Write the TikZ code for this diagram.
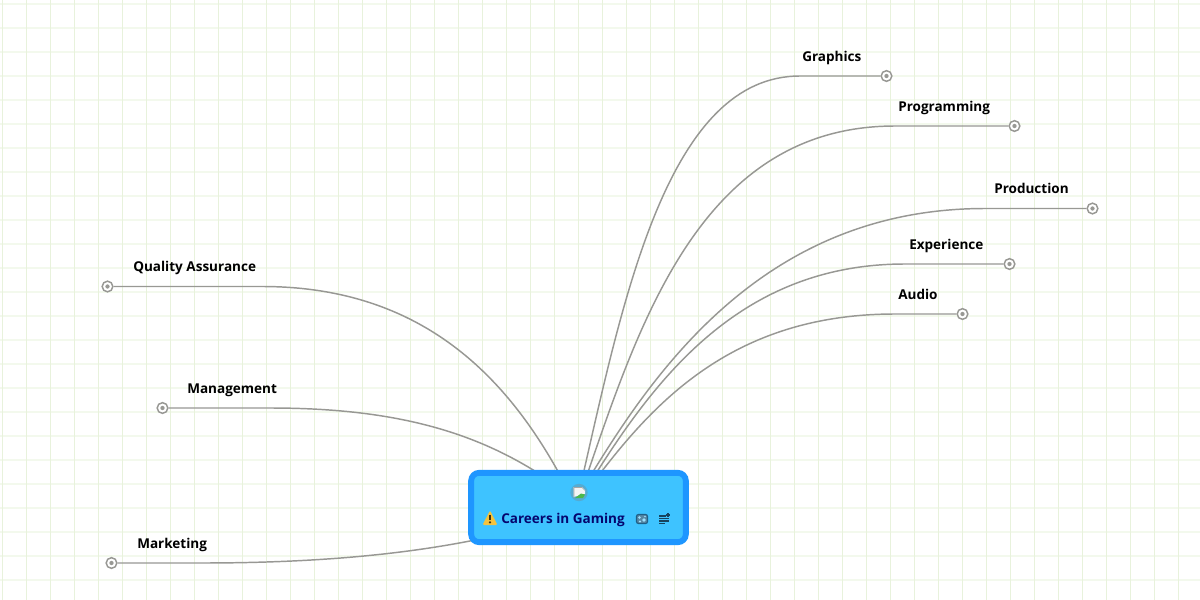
\documentclass[tikz,border=0pt]{standalone}
\usepackage{fontspec}
\setmainfont{Open Sans}
\pgfdeclarelayer{gridlayer}
\pgfdeclarelayer{connlayer}
\pgfsetlayers{gridlayer,connlayer,main}
\definecolor{gridv}{HTML}{E8F2DC}
\definecolor{gridh}{HTML}{F3F9ED}
\definecolor{conn}{HTML}{989894}
\definecolor{rootfill}{HTML}{3EC3FF}
\definecolor{rootedge}{HTML}{1E96FF}
\definecolor{roottext}{HTML}{05056E}
\definecolor{warn}{HTML}{F5C33B}
\definecolor{iconc}{HTML}{1F5F86}
\tikzset{
  x=0.75pt,y=-0.75pt,
  branch/.style={draw=conn,line width=1.1pt},
  leaf/.style={circle,draw=conn,fill=white,line width=1.1pt,minimum size=8pt,inner sep=0pt,
    path picture={\fill[conn] (path picture bounding box.center) circle (1.6pt);}},
  lab/.style={font=\bfseries\fontsize{10.15pt}{12pt}\selectfont,text=black,inner sep=0pt,anchor=base west},
  rootbox/.style={draw=rootedge,fill=rootfill,line width=4.4pt,rounded corners=6pt,minimum width=161pt,minimum height=52pt,inner sep=0pt},
  roottxt/.style={font=\bfseries\fontsize{10.15pt}{12pt}\selectfont,text=roottext,inner sep=0pt,anchor=base west}
}
\begin{document}
\begin{tikzpicture}
\useasboundingbox (0,0) rectangle (1200,600);
\begin{pgfonlayer}{gridlayer}
\fill[white] (0,0) rectangle (1200,600);
\foreach \k in {0,...,24}{\draw[gridh,line width=0.8pt] (0,4+24*\k) -- (1200,4+24*\k);}
\foreach \k in {0,...,49}{\draw[gridv,line width=0.7pt] (2+24*\k,0) -- (2+24*\k,600);}
\end{pgfonlayer}

\node[rootbox] (root) at (578.5,507.5) {};
\node[roottxt] (roottitle) at (501,523.5) {Careers in Gaming};

% broken image icon
\node[inner sep=0pt,minimum size=0pt] (imgicon) at (579,492) {};
\fill[rootfill!65!gray] (579,492.5) circle (6.5pt);
\fill[white!92!gray] (573.5,487) -- (582,487) -- (585,490) -- (585,494) -- (573.5,497) -- cycle;
\fill[green!60!black!70] (575,498) -- (581,493.5) -- (585,494.5) -- (583,498) -- cycle;
\draw[gray!70,line width=0.4pt] (574,497.5) -- (574,487.5) -- (582,487.5) -- (585,490.5);
% warning icon
\node[inner sep=0pt,minimum size=0pt] (warnicon) at (490,518) {};
\fill[warn,rounded corners=1pt] (490,510.5) -- (497.5,525) -- (482.5,525) -- cycle;
\fill[black!75!warn] (489.2,514.5) rectangle (490.8,520.3);
\fill[black!75!warn] (490,522.3) circle (0.9pt);
% image icon
\node[inner sep=0pt,minimum size=0pt] (picicon) at (642,519) {};
\draw[iconc,fill=iconc!75,rounded corners=1.5pt,line width=0.9pt] (636.5,514.5) rectangle (647.5,523.5);
\fill[rootfill!50] (639.5,517.5) circle (1.1pt) (644,520) circle (1.4pt) (640,521.5) circle (0.8pt) (645,516.5) circle (0.7pt);
% notes icon
\node[inner sep=0pt,minimum size=0pt] (noteicon) at (664,519) {};
\draw[iconc!70!black,line width=1.2pt] (659,516) -- (666,516) (659,518.6) -- (669,518.6) (659,521) -- (669,521) (659,523.3) -- (665,523.3);
\draw[iconc!70!black,line width=0.8pt] (668,513) -- (668,517) (666,515) -- (670,515);

\node[leaf] (graphics) at (886.5,76) {};
\node[leaf] (programming) at (1014.5,126) {};
\node[leaf] (production) at (1092.5,208.5) {};
\node[leaf] (experience) at (1009.5,264) {};
\node[leaf] (audio) at (962.5,314) {};
\node[leaf] (qa) at (107.5,286.5) {};
\node[leaf] (management) at (162.5,408) {};
\node[leaf] (marketing) at (111.5,563) {};

\node[lab] (tgraphics) at (802,61) {Graphics};
\node[lab] (tprogramming) at (898,111) {Programming};
\node[lab] (tproduction) at (994,193) {Production};
\node[lab] (texperience) at (909,249) {Experience};
\node[lab] (taudio) at (898,299) {Audio};
\node[lab] (tqa) at (133,271) {Quality Assurance};
\node[lab] (tmanagement) at (187,393) {Management};
\node[lab] (tmarketing) at (137,548) {Marketing};

\coordinate (s1) at (583,475);
\coordinate (s2) at (587,475);
\coordinate (s3) at (591,475);
\coordinate (s4) at (595,475);
\coordinate (s5) at (599,475);
\coordinate (s6) at (560,475);
\coordinate (s7) at (538,473);
\coordinate (s8) at (475,540);

\begin{pgfonlayer}{connlayer}
\draw[branch] (s1) .. controls (625,290) and (670,76) .. (800,76) -- (graphics);
\draw[branch] (s2) .. controls (642,315) and (705,126) .. (895,126) -- (programming);
\draw[branch] (s3) .. controls (660,362) and (770,208.5) .. (985,208.5) -- (production);
\draw[branch] (s4) .. controls (660,372) and (745,264) .. (905,264) -- (experience);
\draw[branch] (s5) .. controls (660,395) and (740,314) .. (895,314) -- (audio);
\draw[branch] (s6) .. controls (505,375) and (420,286.5) .. (262,286.5) -- (qa);
\draw[branch] (s7) .. controls (470,430) and (390,408) .. (270,408) -- (management);
\draw[branch] (s8) .. controls (385,558) and (290,563) .. (200,563) -- (marketing);
\end{pgfonlayer}
\end{tikzpicture}
\end{document}
